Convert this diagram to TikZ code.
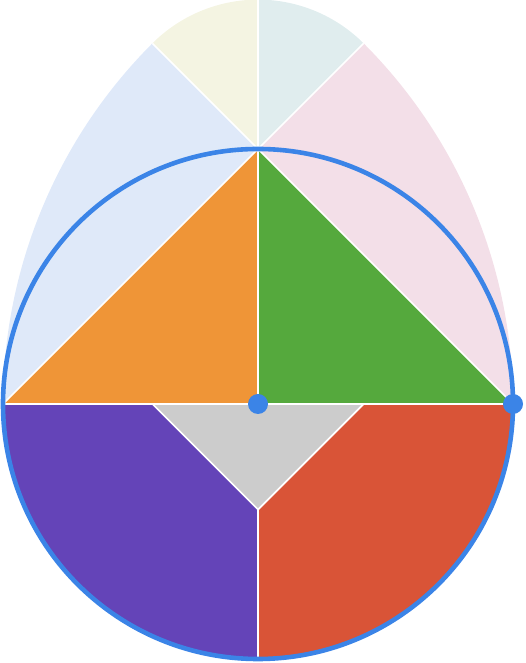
\documentclass[tikz,border=0pt]{standalone}
\definecolor{cLblue}{HTML}{DFE9F9}
\definecolor{cPink}{HTML}{F3DFE8}
\definecolor{cCream}{HTML}{F4F4E2}
\definecolor{cCyan}{HTML}{E0EDEE}
\definecolor{cOrange}{HTML}{EF9537}
\definecolor{cGreen}{HTML}{55A93D}
\definecolor{cGray}{HTML}{CCCCCC}
\definecolor{cPurple}{HTML}{6444B8}
\definecolor{cRed}{HTML}{D95437}
\definecolor{cBlue}{HTML}{3B84E7}
\tikzset{
  region/.style={draw=white, line width=1.6pt, line join=round},
  ring/.style={draw=cBlue, line width=4.6pt},
  dot/.style={circle, fill=cBlue, inner sep=0pt, minimum size=20pt}
}
\begin{document}
\begin{tikzpicture}[x=1pt,y=1pt]
\useasboundingbox (0,0) rectangle (525,663);
\coordinate (A) at (3,259);
\coordinate (B) at (513,259);
\coordinate (C) at (258,259);
\coordinate (T) at (258,514);
\coordinate (P) at (152.38,619.62);
\coordinate (Q) at (363.62,619.62);
\coordinate (Top) at (258,663.37);
\coordinate (G1) at (152.38,259);
\coordinate (G2) at (363.62,259);
\coordinate (G3) at (258,153.38);
\coordinate (Bot) at (258,4);
% upper side regions
\fill[cLblue] (A) arc[start angle=180,end angle=135,radius=510] -- (T) -- cycle;
\fill[cPink] (B) arc[start angle=0,end angle=45,radius=510] -- (T) -- cycle;
\fill[cCream] (T) -- (P) arc[start angle=135,end angle=90,radius=149.37] -- cycle;
\fill[cCyan] (T) -- (Top) arc[start angle=90,end angle=45,radius=149.37] -- cycle;
% triangles
\fill[cOrange] (A) -- (T) -- (C) -- cycle;
\fill[cGreen] (T) -- (B) -- (C) -- cycle;
\fill[cGray] (G1) -- (G3) -- (G2) -- cycle;
\fill[cPurple] (A) -- (G1) -- (G3) -- (Bot) arc[start angle=270,end angle=180,radius=255] -- cycle;
\fill[cRed] (G3) -- (G2) -- (B) arc[start angle=0,end angle=-90,radius=255] -- cycle;
% white separators
\draw[region] (A) -- (B);
\draw[region] (Top) -- (C);
\draw[region] (G3) -- (Bot);
\draw[region] (A) -- (T) -- (B);
\draw[region] (P) -- (T) -- (Q);
\draw[region] (G1) -- (G3) -- (G2);
% circle and dots
\draw[ring] (C) circle[radius=255];
\node[dot] (c1) at (C) {};
\node[dot] (c2) at (B) {};
\end{tikzpicture}
\end{document}
